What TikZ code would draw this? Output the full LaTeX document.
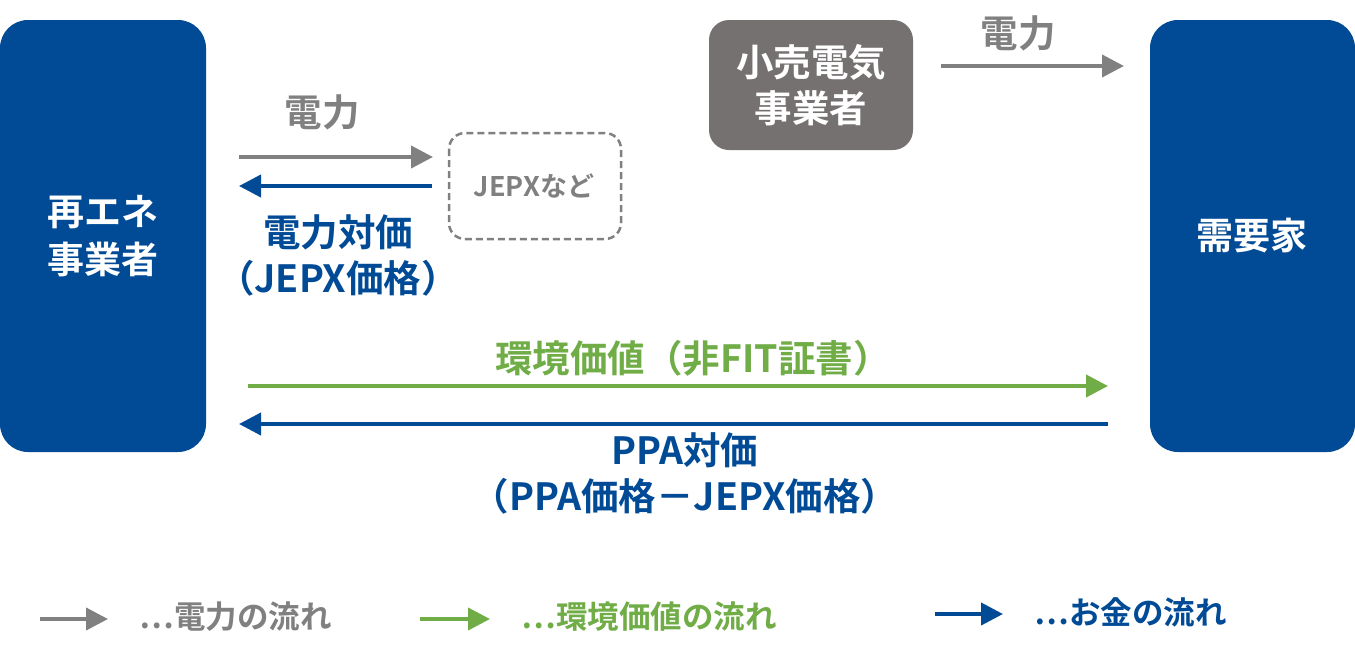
\documentclass[tikz,border=0pt]{standalone}
\usepackage{fontspec}
\setmainfont{Noto Sans CJK JP}[BoldFont={Noto Sans CJK JP Bold}]
\usetikzlibrary{arrows.meta}
\definecolor{cblue}{HTML}{004A96}
\definecolor{cgray}{HTML}{808080}
\definecolor{cbox}{HTML}{767171}
\definecolor{cgreen}{HTML}{70AD47}
\begin{document}
\begin{tikzpicture}[x=1pt,y=-1pt,
  box/.style={rounded corners=28pt,fill=cblue,text=white,font=\fontsize{37}{48}\selectfont\bfseries,align=center},
  arr/.style={line width=4pt,-{Triangle[length=22pt,width=22pt]}},
  lbl/.style={font=\fontsize{37.5}{46}\selectfont\bfseries,align=center},
  leg/.style={font=\fontsize{31.5}{38}\selectfont\bfseries,anchor=west}]
\useasboundingbox (0,0) rectangle (1355,659);
\fill[box] (0,20) rectangle (206,452);
\node[box] (re) at (103,236) {再エネ\\事業者};
\fill[box] (1150,20) rectangle (1355,452);
\node[box] (ju) at (1252,236) {需要家};
\fill[cbox,rounded corners=20pt] (709,20) rectangle (913,150);
\node[lbl,text=white] (ko) at (811,85) {小売電気\\事業者};
\draw[cgray,line width=2.5pt,dash pattern=on 7pt off 4pt,rounded corners=16pt] (449,133) rectangle (621,239);
\node[text=cgray,font=\fontsize{27}{32}\selectfont\bfseries] (jx) at (534,186) {JEPXなど};
\coordinate (a1) at (239,157); \coordinate (a2) at (433,157);
\draw[arr,cgray] (a1) -- (a2);
\node[lbl,text=cgray] (l1) at (322,112) {電力};
\coordinate (b1) at (432,186); \coordinate (b2) at (239,186);
\draw[arr,cblue] (b1) -- (b2);
\node[lbl,text=cblue] (l2) at (338,255) {電力対価\\（JEPX価格）};
\coordinate (c1) at (941,66); \coordinate (c2) at (1124,66);
\draw[arr,cgray] (c1) -- (c2);
\node[lbl,text=cgray] (l3) at (1018,33) {電力};
\coordinate (d1) at (248,386); \coordinate (d2) at (1108,386);
\draw[arr,cgreen] (d1) -- (d2);
\node[lbl,text=cgreen] (l4) at (693,358) {環境価値（非FIT証書）};
\coordinate (e1) at (1108,424); \coordinate (e2) at (239,424);
\draw[arr,cblue] (e1) -- (e2);
\node[lbl,text=cblue] (l5) at (685,473) {PPA対価\\（PPA価格－JEPX価格）};
\coordinate (f1) at (40,619); \coordinate (f2) at (108,619);
\draw[arr,cgray] (f1) -- (f2);
\node[leg,text=cgray] (g1) at (136,617) {…電力の流れ};
\coordinate (h1) at (420,619); \coordinate (h2) at (490,619);
\draw[arr,cgreen] (h1) -- (h2);
\node[leg,text=cgreen] (g2) at (518,617) {…環境価値の流れ};
\coordinate (k1) at (935,614); \coordinate (k2) at (1003,614);
\draw[arr,cblue] (k1) -- (k2);
\node[leg,text=cblue] (g3) at (1031,612) {…お金の流れ};
\end{tikzpicture}
\end{document}
